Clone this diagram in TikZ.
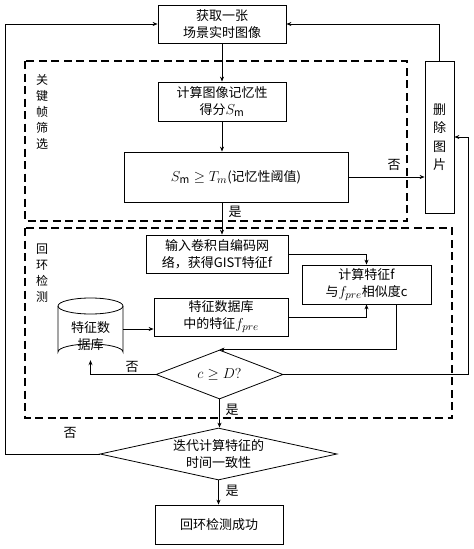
\documentclass[tikz,border=0pt]{standalone}
\usepackage{fontspec}
\setmainfont{Noto Sans CJK SC}
\usetikzlibrary{shapes.geometric,arrows.meta,calc}
\newcommand\mth[1]{{\fontsize{15}{17}\selectfont$#1$}}
\begin{document}
\begin{tikzpicture}[x=1pt,y=-1pt,
 box/.style={draw, line width=0.8pt, inner sep=0pt, align=center, font=\fontsize{13}{17}\selectfont},
 dia/.style={draw, diamond, line width=0.8pt, inner sep=0pt},
 arr/.style={-{Stealth[length=5pt,width=4pt]}, line width=0.8pt},
 grp/.style={draw, line width=1.6pt, dash pattern=on 8pt off 4.5pt},
 lab/.style={font=\fontsize{13}{15}\selectfont, inner sep=0pt},
 vlab/.style={font=\fontsize{12}{16}\selectfont, inner sep=0pt, align=center}]
\useasboundingbox (0,0) rectangle (474,549);
% groups
\draw[grp] (25,61) rectangle (407,221);
\draw[grp] (25,228) rectangle (452,418);
\node[vlab] (g1) at (42,112) {关\\键\\帧\\筛\\选};
\node[vlab] (g2) at (42,273) {回\\环\\检\\测};
% nodes
\node[box, minimum width=128, minimum height=38] (a) at (222,24) {获取一张\\场景实时图像};
\node[box, minimum width=128, minimum height=39] (b) at (222,101.5) {计算图像记忆性\\得分\mth{S_\mathrm{m}}};
\node[box, minimum width=224, minimum height=50] (c) at (236,177) {\mth{S_\mathrm{m}\geq T_m}(记忆性阈值)};
\node[box, minimum width=29, minimum height=152, font=\fontsize{13}{18.5}\selectfont] (del) at (439.5,137) {删\\除\\图\\片};
\node[box, minimum width=142, minimum height=38] (e) at (217,254) {输入卷积自编码网\\络，获得GIST特征f};
\node[box, minimum width=129, minimum height=39] (f) at (366.5,284.5) {计算特征f\\与\mth{f_{pre}}相似度c};
\node[box, minimum width=134, minimum height=38] (g) at (221,317) {特征数据库\\中的特征\mth{f_{pre}}};
\node[minimum width=65, minimum height=62, inner sep=0pt] (db) at (90.5,329) {};
\draw[line width=0.8pt] (58,306) arc[start angle=180, end angle=-180, x radius=32.5, y radius=8];
\draw[line width=0.8pt] (58,306) -- (58,352) arc[start angle=180, end angle=360, x radius=32.5, y radius=8] -- (123,306);
\node[box, draw=none] (dbt) at (90.5,336) {特征数\\据库};
\node[dia, minimum width=127, minimum height=49] (d1) at (219.5,374.5) {};
\node[lab] (d1t) at (d1) {\mth{c\geq D?}};
\node[dia, minimum width=237, minimum height=52] (d2) at (218.5,454) {};
\node[box, draw=none] (d2t) at (d2) {迭代计算特征的\\时间一致性};
\node[box, minimum width=128, minimum height=39] (h) at (219,524.5) {回环检测成功};
\coordinate (L) at (5,0);
\coordinate (R) at (468,0);
% connectors
\draw[arr] (a.south) -- (b.north);
\draw[arr] (b.south) -- (b.south |- c.north);
\draw[arr] (b.south |- c.south) -- (b.south |- e.north);
\node[lab] (y1) at (235,212) {是};
\draw[arr] (c.east) -- (c.east -| del.west);
\node[lab] (n1) at (394,165) {否};
\draw[arr] (del.north) |- (a.east);
\draw[arr] (e.east) -| (f.north);
\draw[arr] (g.east) -| (f.south);
\draw[arr] (db.east) -- (db.east -| g.west);
\draw[arr] ([xshift=29.5pt]f.south) |- (d1.north);
\draw[arr] (d1.east) -- (d1.east -| R) |- (del.east);
\draw[arr] (d1.west) -| (db.south);
\node[lab] (n2) at (132,367) {否};
\draw[arr] (d1.south) -- (d1.south |- d2.north);
\node[lab] (y2) at (232,410) {是};
\draw[arr] (d2.west) -- (d2.west -| L) |- (a.west);
\node[lab] (n3) at (70,433) {否};
\draw[arr] (d2.south) -- (d2.south |- h.north);
\node[lab] (y3) at (232,491) {是};
\end{tikzpicture}
\end{document}
